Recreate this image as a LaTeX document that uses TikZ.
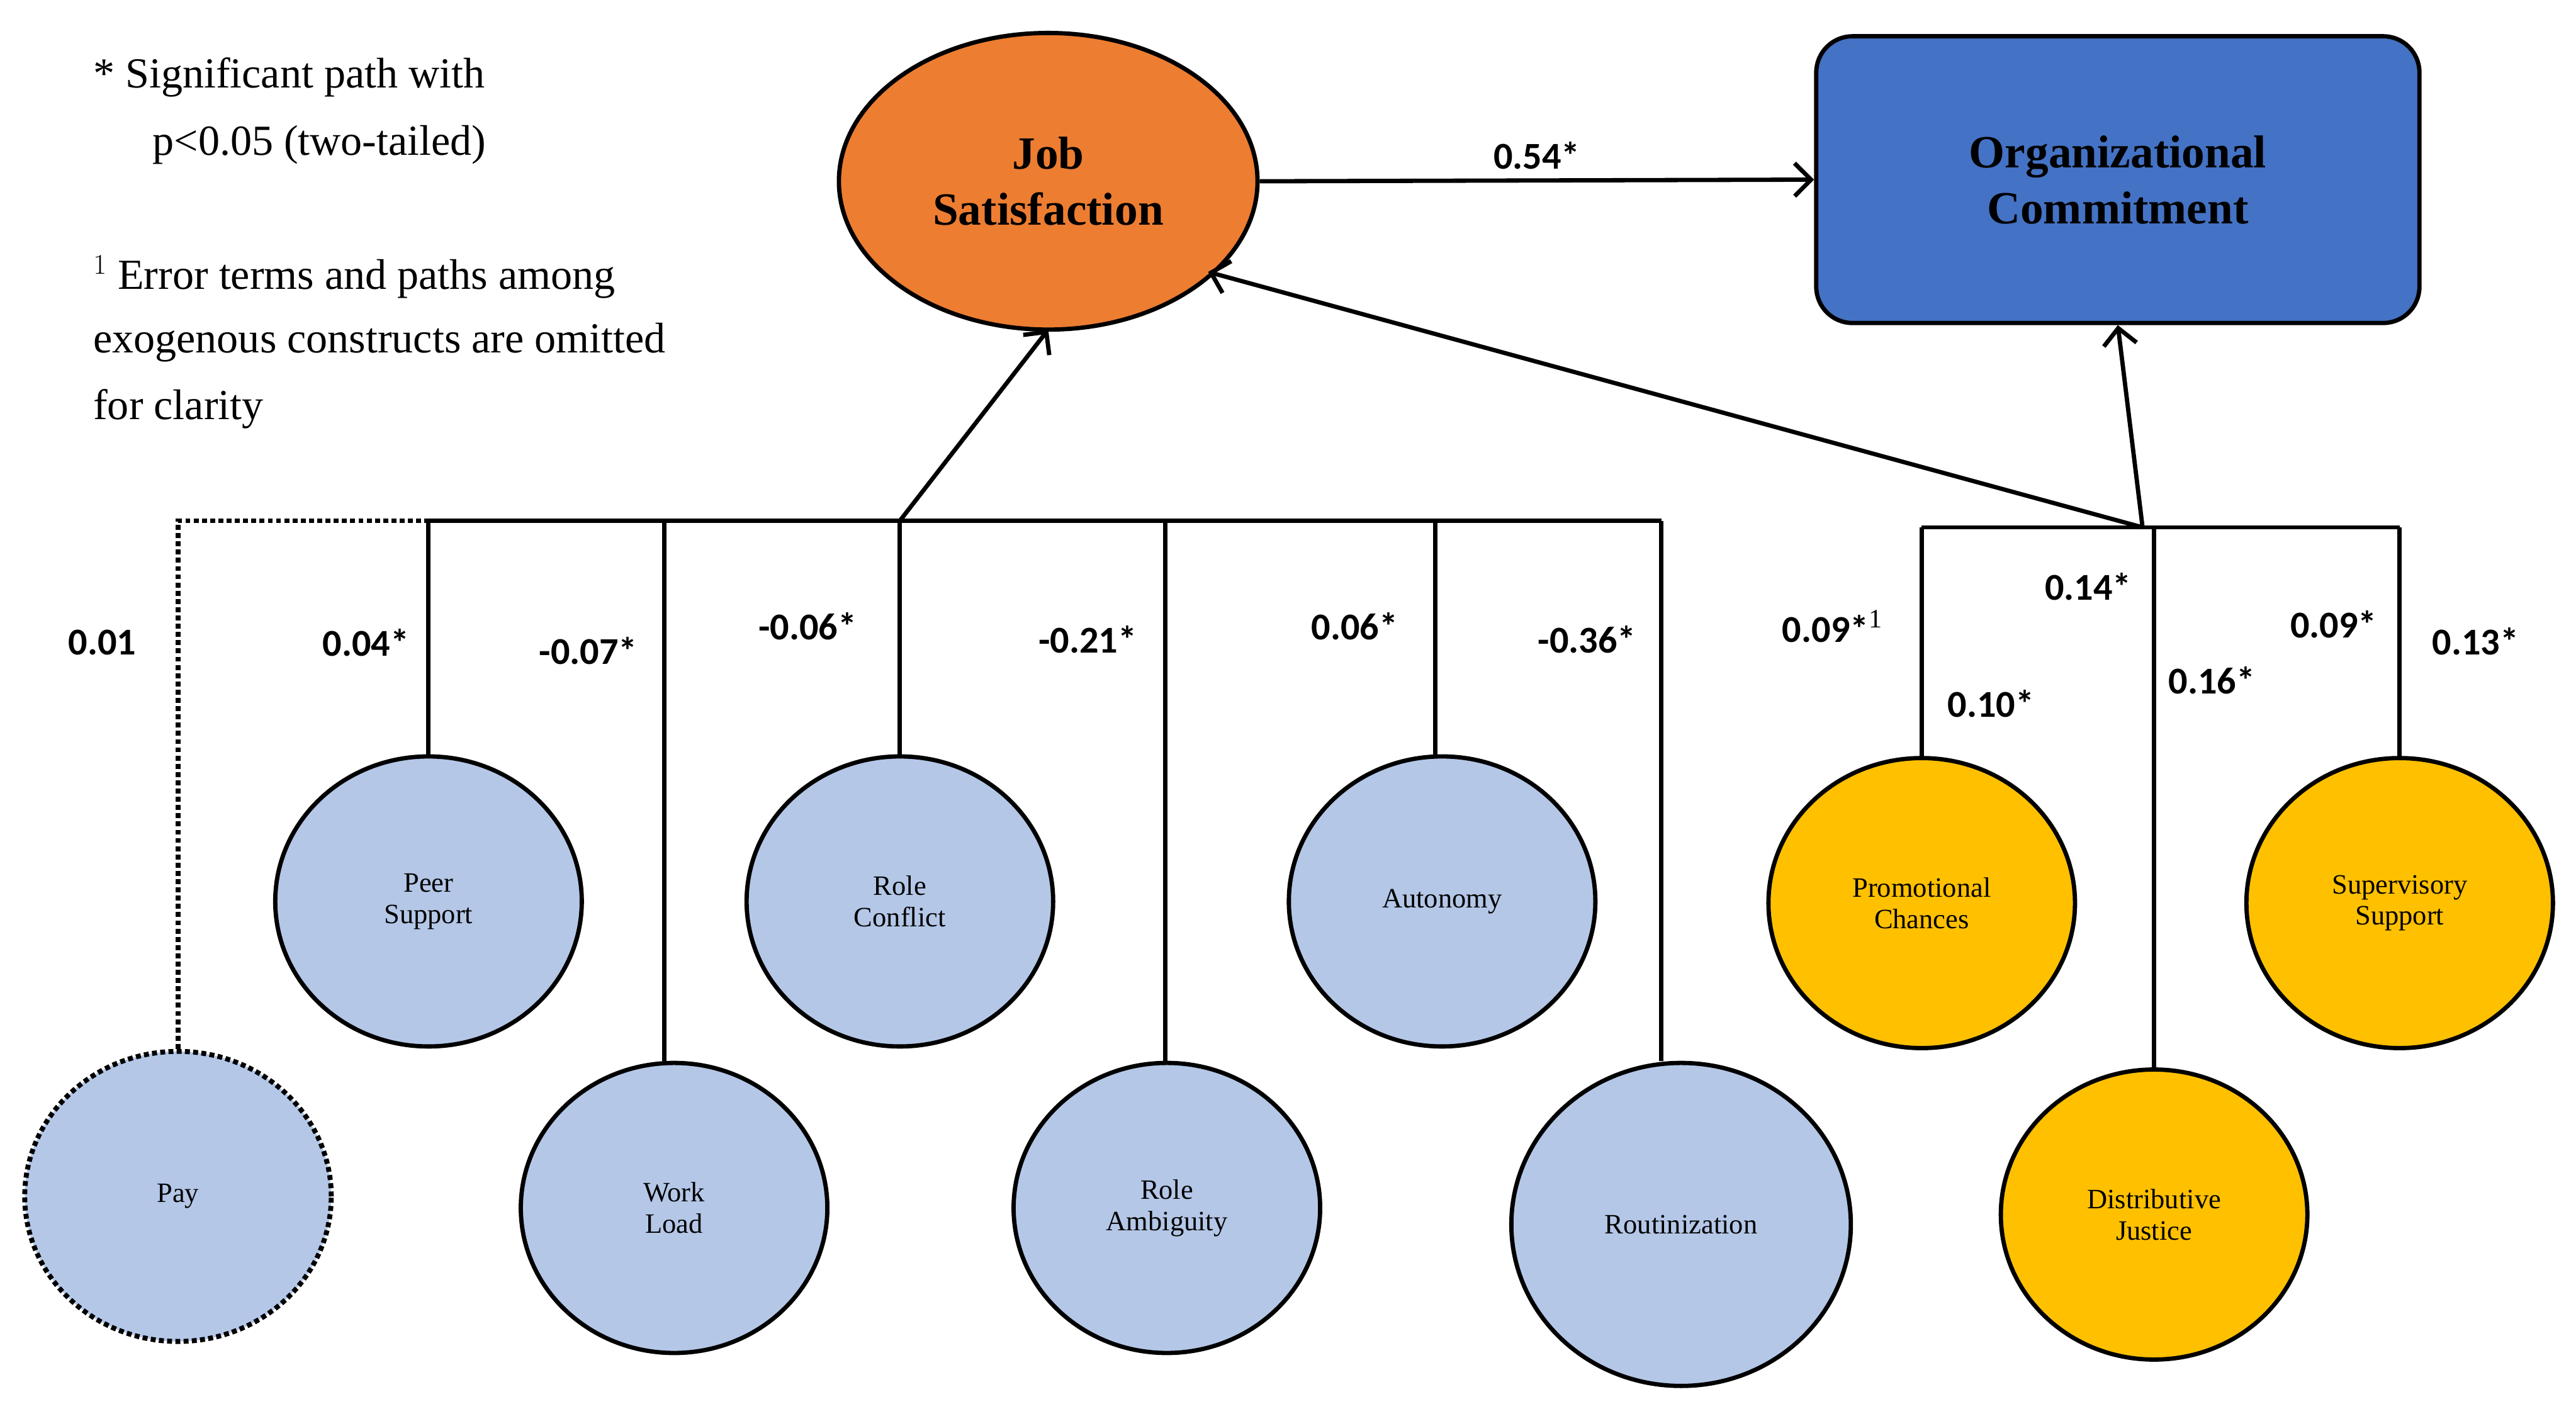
\documentclass[tikz,border=0pt]{standalone}
\usepackage{fontspec}
\setmainfont{Liberation Serif}
\newfontfamily\carlitofont{Carlito}
\usetikzlibrary{arrows.meta,shapes.geometric}
\definecolor{orng}{RGB}{237,125,49}
\definecolor{oblue}{RGB}{68,114,196}
\definecolor{lblue}{RGB}{180,199,231}
\definecolor{yel}{RGB}{255,192,0}
\begin{document}
\begin{tikzpicture}[x=1pt,y=-1pt,line width=2.6pt,
 circ/.style={ellipse,draw,minimum width=186pt,minimum height=176pt,fill=lblue,align=center,font=\fontsize{17}{19}\selectfont,inner sep=0pt},
 ycirc/.style={circ,fill=yel},
 lab/.style={font=\carlitofont\bfseries\fontsize{23}{25}\selectfont},
 arr/.style={-{Straight Barb[length=10pt,width=20pt]}},
 leg/.style={anchor=west,font=\fontsize{26}{28}\selectfont}]
\useasboundingbox (0,0) rectangle (1563,855);
\node[leg] (l1) at (52,47) {* Significant path with};
\node[leg] (l2) at (88,88) {p<0.05 (two-tailed)};
\node[leg] (l3) at (52,168) {$^{1}$ Error terms and paths among};
\node[leg] (l4) at (52,208) {exogenous constructs are omitted};
\node[leg] (l5) at (52,248) {for clarity};
\node[ellipse,draw,fill=orng,minimum width=254pt,minimum height=180pt,align=center,font=\bfseries\fontsize{28}{34}\selectfont] (js) at (636,110) {Job\\Satisfaction};
\node[draw,fill=oblue,rounded corners=22pt,minimum width=366pt,minimum height=174pt,align=center,font=\bfseries\fontsize{28}{34}\selectfont] (oc) at (1285,109) {Organizational\\Commitment};
\draw[arr] (js.east) -- (oc.west) node[lab,midway,above=2pt] (l054) {0.54*};
% circles
\node[circ,dotted,line width=3pt] (pay) at (108,726) {Pay};
\node[circ] (ps) at (260,547) {Peer\\Support};
\node[circ] (wl) at (409,733) {Work\\Load};
\node[circ] (rc) at (546,547) {Role\\Conflict};
\node[circ] (ra) at (708,733) {Role\\Ambiguity};
\node[circ] (au) at (875,547) {Autonomy};
\node[circ,minimum width=206pt,minimum height=196pt] (ro) at (1020,743) {Routinization};
\node[ycirc] (pc) at (1166,548) {Promotional\\Chances};
\node[ycirc] (dj) at (1307,737) {Distributive\\Justice};
\node[ycirc] (ss) at (1456,548) {Supervisory\\Support};
% left bar
\coordinate (b0) at (108,316);
\coordinate (b1) at (260,316);
\coordinate (b2) at (403,316);
\coordinate (b3) at (546,316);
\coordinate (b4) at (707,316);
\coordinate (b5) at (871,316);
\coordinate (b6) at (1008,316);
\draw (b1) -- (b6);
\draw[dotted,line width=3pt] (pay.north) -- (b0) -- (b1);
\draw (b1) -- (ps.north);
\draw (b2) -- (b2 |- wl.north);
\draw (b3) -- (rc.north);
\draw (b4) -- (b4 |- ra.north);
\draw (b5) -- (b5 |- au.north);
\draw (b6) -- (b6 |- ro.north);
\coordinate (jsb) at (636,200);
\draw[arr] (b3) -- (jsb);
% right bar
\coordinate (r1) at (1166,320);
\coordinate (r2) at (1307,320);
\coordinate (r3) at (1456,320);
\coordinate (rm) at (1300,320);
\draw (r1) -- (r3);
\draw (r1) -- (pc.north);
\draw (r2) -- (dj.north);
\draw (r3) -- (ss.north);
\draw[arr] (rm) -- (oc.south);
\coordinate (jsr) at (733,165);
\draw[arr] (rm) -- (jsr);
% labels
\node[lab] (a1) at (62,390) {0.01};
\node[lab] (a2) at (222,390) {0.04*};
\node[lab] (a3) at (357,395) {-0.07*};
\node[lab] (a4) at (490,380) {-0.06*};
\node[lab] (a5) at (660,388) {-0.21*};
\node[lab] (a6) at (822,380) {0.06*};
\node[lab] (a7) at (963,388) {-0.36*};
\node[lab] (a8) at (1112,380) {0.09*\textsuperscript{\normalfont 1}};
\node[lab] (a9) at (1267,356) {0.14*};
\node[lab] (a10) at (1208,427) {0.10*};
\node[lab] (a11) at (1342,413) {0.16*};
\node[lab] (a12) at (1416,379) {0.09*};
\node[lab] (a13) at (1502,389) {0.13*};
\end{tikzpicture}
\end{document}
